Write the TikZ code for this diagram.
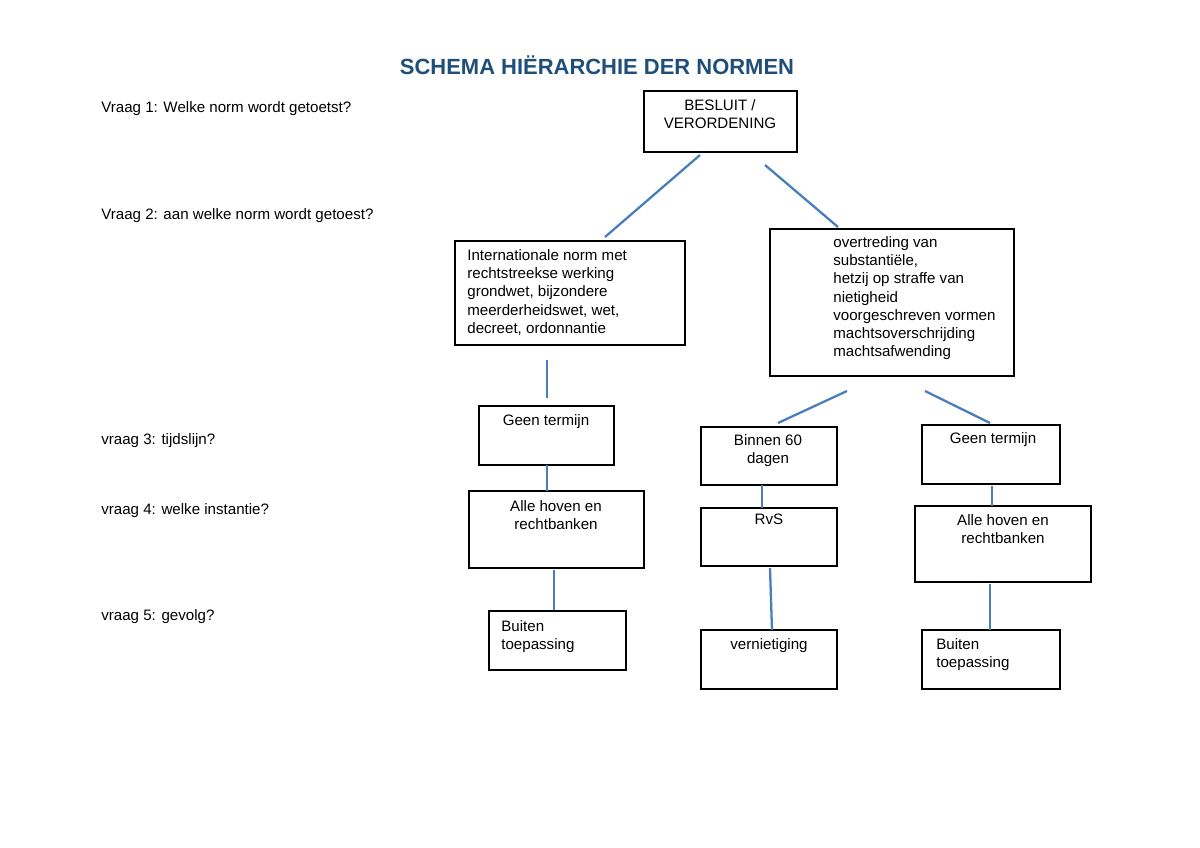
\documentclass[tikz,border=0pt]{standalone}
\usepackage{fontspec}
\setmainfont{Liberation Sans}
\begin{document}
\begin{tikzpicture}[x=0.02cm,y=-0.02cm,
 bx/.style={draw,line width=1pt},
 tx/.style={anchor=north west,inner sep=0pt,align=left,font=\fontsize{8.6}{10.4}\selectfont},
 tc/.style={anchor=north,inner sep=0pt,align=center,font=\fontsize{8.6}{10.4}\selectfont},
 lb/.style={anchor=west,inner sep=0pt,font=\fontsize{8.6}{10.4}\selectfont},
 ln/.style={draw=blue!45!black!60!cyan,color={rgb,255:red,74;green,126;blue,187},line width=1.3pt}]
\useasboundingbox (0,0) rectangle (1200,848);
\node[inner sep=0pt,font=\bfseries\fontsize{12.5}{14}\selectfont,text={rgb,255:red,31;green,78;blue,121}] (title) at (597,65) {SCHEMA HIËRARCHIE DER NORMEN};
\node[lb] (q1) at (101,109) {Vraag 1: Welke norm wordt getoetst?};
\node[lb] (q2) at (101,216) {Vraag 2: aan welke norm wordt getoest?};
\node[lb] (q3) at (101,441) {vraag 3: tijdslijn?};
\node[lb] (q4) at (101,511) {vraag 4: welke instantie?};
\node[lb] (q5) at (101,617) {vraag 5: gevolg?};
% boxes
\draw[bx] (644,91) rectangle (797,152);
\node[tc] (b) at (720,99) {BESLUIT /\\VERORDENING};
\draw[bx] (455,241) rectangle (685,345);
\node[tx] (i) at (467,249) {Internationale norm met\\rechtstreekse werking\\grondwet, bijzondere\\meerderheidswet, wet,\\decreet, ordonnantie};
\draw[bx] (770,229) rectangle (1014,376);
\node[tx] (o) at (833,236) {overtreding van\\substantiële,\\hetzij op straffe van\\nietigheid\\voorgeschreven vormen\\machtsoverschrijding\\machtsafwending};
\draw[bx] (479,406) rectangle (614,465);
\node[tc] (g1) at (546,414) {Geen termijn};
\draw[bx] (469,491) rectangle (644,568);
\node[tc] (a1) at (556,500) {Alle hoven en\\rechtbanken};
\draw[bx] (489,611) rectangle (626,670);
\node[tx] (bt1) at (501,620) {Buiten\\toepassing};
\draw[bx] (701,427) rectangle (837,485);
\node[tc] (bn) at (768,434) {Binnen 60\\dagen};
\draw[bx] (701,508) rectangle (837,566);
\node[tc] (r) at (769,514) {RvS};
\draw[bx] (701,630) rectangle (837,689);
\node[tc] (v) at (769,638) {vernietiging};
\draw[bx] (922,425) rectangle (1060,484);
\node[tc] (g2) at (993,432) {Geen termijn};
\draw[bx] (915,506) rectangle (1091,582);
\node[tc] (a2) at (1003,514) {Alle hoven en\\rechtbanken};
\draw[bx] (922,630) rectangle (1060,689);
\node[tx] (bt2) at (936,638) {Buiten\\toepassing};
% connectors
\coordinate (c1) at (700,155); \coordinate (c2) at (605,237);
\coordinate (c3) at (765,165); \coordinate (c4) at (838,227);
\coordinate (c5) at (547,360); \coordinate (c6) at (547,398);
\coordinate (c7) at (547,465); \coordinate (c8) at (547,491);
\coordinate (c9) at (554,570); \coordinate (c10) at (554,610);
\coordinate (d1) at (847,391); \coordinate (d2) at (778,423);
\coordinate (d3) at (925,391); \coordinate (d4) at (990,423);
\coordinate (d5) at (762,485); \coordinate (d6) at (762,508);
\coordinate (d7) at (770,568); \coordinate (d8) at (772,630);
\coordinate (d9) at (992,486); \coordinate (d10) at (992,506);
\coordinate (d11) at (990,584); \coordinate (d12) at (990,630);
\foreach \a/\b in {c1/c2,c3/c4,c5/c6,c7/c8,c9/c10,d1/d2,d3/d4,d5/d6,d7/d8,d9/d10,d11/d12}
 \draw[ln] (\a) -- (\b);
\end{tikzpicture}
\end{document}
